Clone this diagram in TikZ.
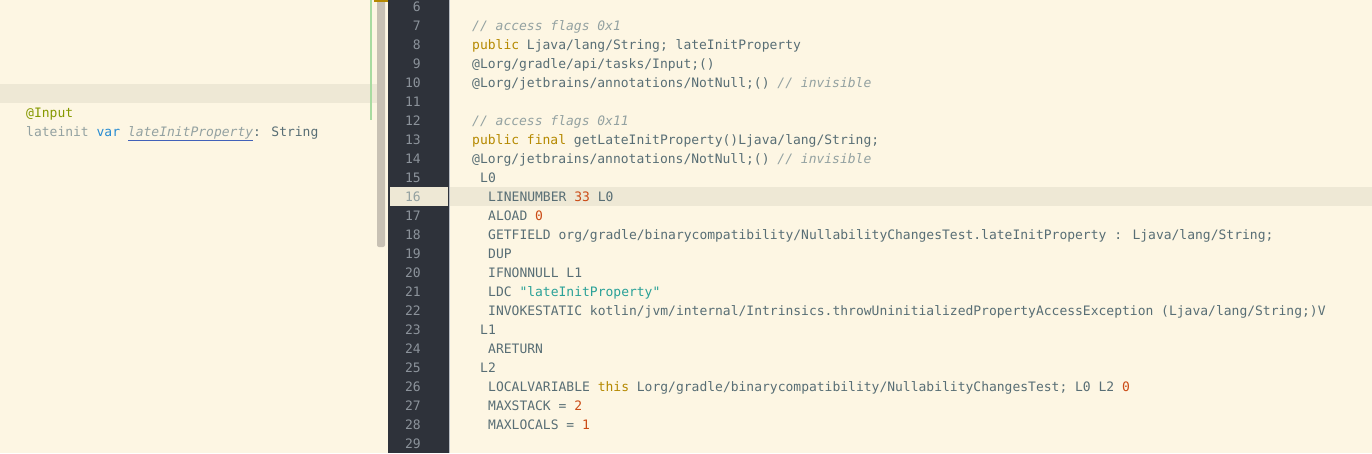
\documentclass[tikz,border=0pt]{standalone}
\usepackage{fontspec}
\newfontfamily\mono{DejaVu Sans Mono}[Scale=1]
\definecolor{bg}{HTML}{FDF6E3}
\definecolor{hl}{HTML}{EEE8D5}
\definecolor{gut}{HTML}{2E323A}
\definecolor{gnum}{HTML}{8C939B}
\definecolor{txt}{HTML}{586E75}
\definecolor{cmt}{HTML}{93A1A1}
\definecolor{kwc}{HTML}{B58900}
\definecolor{numc}{HTML}{CB4B16}
\definecolor{strc}{HTML}{2AA198}
\definecolor{varc}{HTML}{268BD2}
\definecolor{annc}{HTML}{859900}
\definecolor{sbar}{HTML}{C8C1B4}
\definecolor{grn}{HTML}{A8DBA0}
\newcommand{\kw}[1]{\textcolor{kwc}{#1}}
\newcommand{\cm}[1]{\textcolor{cmt}{\itshape #1}}
\newcommand{\nm}[1]{\textcolor{numc}{#1}}
\begin{document}
\begin{tikzpicture}[x=1pt,y=-1pt,
  code/.style={anchor=base west,inner sep=0,font=\mono\fontsize{13}{14}\selectfont,text=txt},
  lnum/.style={anchor=base east,inner sep=0,font=\mono\fontsize{13}{14}\selectfont,text=gnum}]
\useasboundingbox (0,0) rectangle (1372,453);
\fill[bg] (0,0) rectangle (1372,453);
% highlighted lines
\fill[hl] (0,84) rectangle (383,103);
\fill[hl] (449,187) rectangle (1372,206);
% green marker, scrollbar
\fill[grn] (370,0) rectangle (372,120);
\fill[sbar,rounded corners=2pt] (377,-4) rectangle (385,247);
\fill[kwc] (374,0) rectangle (388,1.5);
% gutter
\fill[gut] (388,0) rectangle (449,453);
\fill[hl] (390,187) rectangle (448,206);
\draw[gnum!60,line width=0.6pt] (449,0) -- (449,453);
% line numbers
\foreach \n in {6,...,29}{
  \pgfmathsetmacro{\yy}{7+(\n-6)*19+4.5}
  \ifnum\n=16
    \node[lnum,text=cmt] (n\n) at (421,\yy) {\n};
  \else
    \node[lnum] (n\n) at (421,\yy) {\n};
  \fi
}
% left pane
\node[code,text=annc] (inp) at (26,117.5) {@Input};
\node[code,text=cmt] (lv) at (26,136.5) {lateinit \textcolor{varc}{var} \textcolor{cmt}{\itshape lateInitProperty}\textcolor{txt}{: String}};
\draw[varc!70!violet,line width=0.8pt] (128,140) -- (253,140);
% code
\node[code] (c7) at (472,30.5) {\cm{// access flags 0x1}};
\node[code] (c8) at (472,49.5) {\kw{public} Ljava/lang/String; lateInitProperty};
\node[code] (c9) at (472,68.5) {@Lorg/gradle/api/tasks/Input;()};
\node[code] (c10) at (472,87.5) {@Lorg/jetbrains/annotations/NotNull;() \cm{// invisible}};
\node[code] (c12) at (472,125.5) {\cm{// access flags 0x11}};
\node[code] (c13) at (472,144.5) {\kw{public} \kw{final} getLateInitProperty()Ljava/lang/String;};
\node[code] (c14) at (472,163.5) {@Lorg/jetbrains/annotations/NotNull;() \cm{// invisible}};
\node[code] (c15) at (480,182.5) {L0};
\node[code] (c16) at (488,201.5) {LINENUMBER \nm{33} L0};
\node[code] (c17) at (488,220.5) {ALOAD \nm{0}};
\node[code] (c18) at (488,239.5) {GETFIELD org/gradle/binarycompatibility/NullabilityChangesTest.lateInitProperty : Ljava/lang/String;};
\node[code] (c19) at (488,258.5) {DUP};
\node[code] (c20) at (488,277.5) {IFNONNULL L1};
\node[code] (c21) at (488,296.5) {LDC \textcolor{strc}{"lateInitProperty"}};
\node[code] (c22) at (488,315.5) {INVOKESTATIC kotlin/jvm/internal/Intrinsics.throwUninitializedPropertyAccessException (Ljava/lang/String;)V};
\node[code] (c23) at (480,334.5) {L1};
\node[code] (c24) at (488,353.5) {ARETURN};
\node[code] (c25) at (480,372.5) {L2};
\node[code] (c26) at (488,391.5) {LOCALVARIABLE \kw{this} Lorg/gradle/binarycompatibility/NullabilityChangesTest; L0 L2 \nm{0}};
\node[code] (c27) at (488,410.5) {MAXSTACK = \nm{2}};
\node[code] (c28) at (488,429.5) {MAXLOCALS = \nm{1}};
\end{tikzpicture}
\end{document}
